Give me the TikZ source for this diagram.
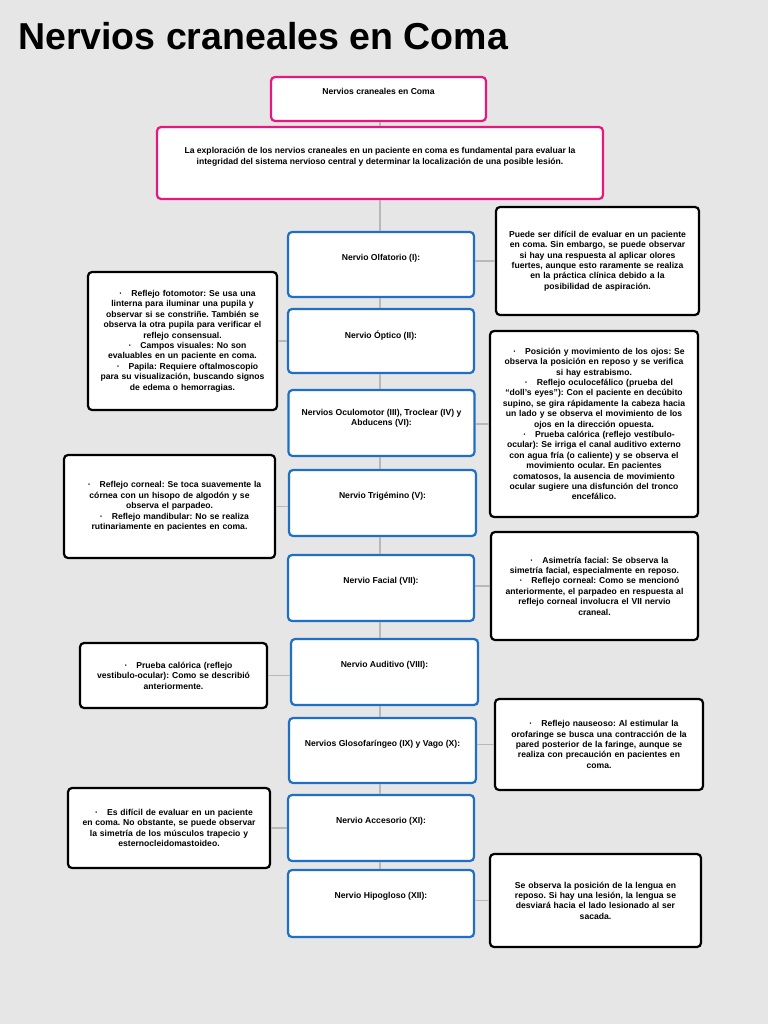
\documentclass[tikz,border=0pt]{standalone}
\usepackage{fontspec}
\setmainfont{Liberation Sans}
\definecolor{pagebg}{HTML}{E6E6E6}
\definecolor{pinkc}{HTML}{E8177F}
\definecolor{bluec}{HTML}{1F6FC5}
\definecolor{linec}{HTML}{B8B8B8}
\newcommand{\tbx}[4]{\parbox[c][#2][t]{#1}{\centering\vspace*{#3}#4\par}}
\newcommand{\bul}{\hspace*{10pt}·\hspace{9pt}}
\frenchspacing
\tikzset{
  txt/.style={font=\bfseries\fontsize{8.6pt}{10.4pt}\selectfont},
  pinkbox/.style={txt, draw=pinkc, line width=2.2pt, rounded corners=4pt, fill=white, inner sep=0pt},
  nervebox/.style={txt, draw=bluec, line width=2.2pt, rounded corners=4pt, fill=white, inner sep=0pt},
  sidebox/.style={txt, draw=black, line width=2.2pt, rounded corners=4pt, fill=white, inner xsep=7pt, inner ysep=0pt, align=center},
  conn/.style={draw=linec, line width=1.6pt},
  titlefont/.style={font=\bfseries\fontsize{37.5pt}{44pt}\selectfont}
}
\begin{document}
\begin{tikzpicture}[x=1pt,y=-1pt]
\useasboundingbox (0,0) rectangle (768,1024);
\fill[pagebg] (0,0) rectangle (768,1024);
\coordinate (trunk) at (380,0);

\node[titlefont, anchor=base west, inner sep=0pt] (title) at (18,50) {Nervios craneales en Coma};

\node[pinkbox] (top) at (378.5,99) {\tbx{215pt}{44pt}{11pt}{Nervios craneales en Coma}};
\node[pinkbox] (intro) at (380,163) {\tbx{446pt}{72pt}{20pt}{La exploración de los nervios craneales en un paciente en coma es fundamental para evaluar la\\[0.6pt] integridad del sistema nervioso central y determinar la localización de una posible lesión.}};

\node[nervebox] (olf) at (381,264.5) {\tbx{186pt}{65pt}{22pt}{Nervio Olfatorio (I):}};
\node[nervebox] (opt) at (381,341) {\tbx{186pt}{64pt}{22pt}{Nervio Óptico (II):}};
\node[nervebox] (ocu) at (381.5,423) {\tbx{186pt}{66pt}{19pt}{Nervios Oculomotor (III), Troclear (IV) y\\ Abducens (VI):}};
\node[nervebox] (tri) at (382.5,503) {\tbx{187pt}{66pt}{22pt}{Nervio Trigémino (V):}};
\node[nervebox] (fac) at (381,588) {\tbx{186pt}{66pt}{22pt}{Nervio Facial (VII):}};
\node[nervebox] (aud) at (384.5,672) {\tbx{187pt}{66pt}{22pt}{Nervio Auditivo (VIII):}};
\node[nervebox] (glo) at (382.5,750.5) {\tbx{187pt}{65pt}{22pt}{Nervios Glosofaríngeo (IX) y Vago (X):}};
\node[nervebox] (acc) at (381,828) {\tbx{186pt}{66pt}{22pt}{Nervio Accesorio (XI):}};
\node[nervebox] (hip) at (381,903.5) {\tbx{186pt}{67pt}{22pt}{Nervio Hipogloso (XII):}};

\node[sidebox, text width=189pt, minimum height=108pt] (r1) at (597.5,261) {Puede ser difícil de evaluar en un paciente\\ en coma. Sin embargo, se puede observar\\ si hay una respuesta al aplicar olores\\ fuertes, aunque esto raramente se realiza\\ en la práctica clínica debido a la\\ posibilidad de aspiración.};
\node[sidebox, text width=175pt, minimum height=138pt] (l1) at (182.5,341) {\bul Reflejo fotomotor: Se usa una\\ linterna para iluminar una pupila y\\ observar si se constriñe. También se\\ observa la otra pupila para verificar el\\ reflejo consensual.\\ \bul Campos visuales: No son\\ evaluables en un paciente en coma.\\ \bul Papila: Requiere oftalmoscopio\\ para su visualización, buscando signos\\ de edema o hemorragias.};
\node[sidebox, text width=194pt, minimum height=186pt] (r2) at (594,424) {\bul Posición y movimiento de los ojos: Se\\ observa la posición en reposo y se verifica\\ si hay estrabismo.\\ \bul Reflejo oculocefálico (prueba del\\ “doll's eyes”): Con el paciente en decúbito\\ supino, se gira rápidamente la cabeza hacia\\ un lado y se observa el movimiento de los\\ ojos en la dirección opuesta.\\ \bul Prueba calórica (reflejo vestíbulo-\\ ocular): Se irriga el canal auditivo externo\\ con agua fría (o caliente) y se observa el\\ movimiento ocular. En pacientes\\ comatosos, la ausencia de movimiento\\ ocular sugiere una disfunción del tronco\\ encefálico.};
\node[sidebox, text width=197pt, minimum height=103pt] (l2) at (169.5,506.5) {\bul Reflejo corneal: Se toca suavemente la\\ córnea con un hisopo de algodón y se\\ observa el parpadeo.\\ \bul Reflejo mandibular: No se realiza\\ rutinariamente en pacientes en coma.};
\node[sidebox, text width=193pt, minimum height=108pt] (r3) at (594.5,586) {\bul Asimetría facial: Se observa la\\ simetría facial, especialmente en reposo.\\ \bul Reflejo corneal: Como se mencionó\\ anteriormente, el parpadeo en respuesta al\\ reflejo corneal involucra el VII nervio\\ craneal.};
\node[sidebox, text width=173pt, minimum height=65pt] (l3) at (173.5,675.5) {\bul Prueba calórica (reflejo\\ vestibulo-ocular): Como se describió\\ anteriormente.};
\node[sidebox, text width=194pt, minimum height=91pt] (r4) at (599,744.5) {\bul Reflejo nauseoso: Al estimular la\\ orofaringe se busca una contracción de la\\ pared posterior de la faringe, aunque se\\ realiza con precaución en pacientes en\\ coma.};
\node[sidebox, text width=188pt, minimum height=80pt] (l4) at (169,828) {\bul Es difícil de evaluar en un paciente\\ en coma. No obstante, se puede observar\\ la simetría de los músculos trapecio y\\ esternocleidomastoideo.};
\node[sidebox, text width=197pt, minimum height=93pt] (r5) at (595.5,900.5) {Se observa la posición de la lengua en\\ reposo. Si hay una lesión, la lengua se\\ desviará hacia el lado lesionado al ser\\ sacada.};

% trunk
\draw[conn] (top.south -| trunk) -- (intro.north -| trunk);
\draw[conn] (intro.south -| trunk) -- (olf.north -| trunk);
\draw[conn] (olf.south -| trunk) -- (opt.north -| trunk);
\draw[conn] (opt.south -| trunk) -- (ocu.north -| trunk);
\draw[conn] (ocu.south -| trunk) -- (tri.north -| trunk);
\draw[conn] (tri.south -| trunk) -- (fac.north -| trunk);
\draw[conn] (fac.south -| trunk) -- (aud.north -| trunk);
\draw[conn] (aud.south -| trunk) -- (glo.north -| trunk);
\draw[conn] (glo.south -| trunk) -- (acc.north -| trunk);
\draw[conn] (acc.south -| trunk) -- (hip.north -| trunk);

% side connectors
\draw[conn] (olf.east |- r1.west) -- (r1.west);
\draw[conn] (opt.west |- l1.east) -- (l1.east);
\draw[conn] (ocu.east |- r2.west) -- (r2.west);
\draw[conn] (tri.west |- l2.east) -- (l2.east);
\draw[conn] (fac.east |- r3.west) -- (r3.west);
\draw[conn] (aud.west |- l3.east) -- (l3.east);
\draw[conn] (glo.east |- r4.west) -- (r4.west);
\draw[conn] (acc.west |- l4.east) -- (l4.east);
\draw[conn] (hip.east |- r5.west) -- (r5.west);
\end{tikzpicture}
\end{document}
